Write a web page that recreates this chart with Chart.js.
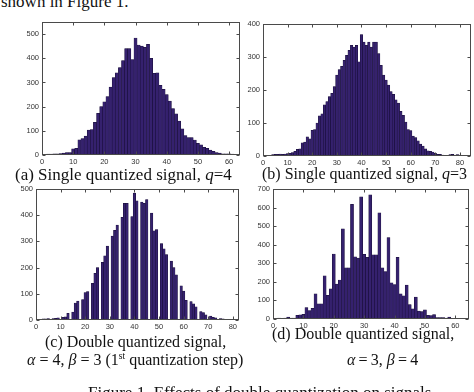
<!DOCTYPE html>
<html>
<head>
<meta charset="utf-8">
<script src="https://cdn.jsdelivr.net/npm/chart.js@4.4.0/dist/chart.umd.min.js"></script>
<style>
  body { margin: 0; background: #fff; }
  #page { position: relative; width: 474px; height: 392px; overflow: hidden; background: #fff; }
  canvas { position: absolute; }
  .cap { position: absolute; white-space: nowrap; font-family: "Liberation Serif", serif; color: #111; line-height: 1; z-index: 2; }
  sup { font-size: 60%; line-height: 0; }
</style>
</head>
<body>
<div id="page">
  <div class="cap" style="left:1px; top:-7px; font-size:17px;">shown in Figure 1.</div>

  <canvas id="ca" width="242" height="160" style="left:0px; top:14px;"></canvas>
  <canvas id="cb" width="233" height="160" style="left:240px; top:16px;"></canvas>
  <canvas id="cc" width="241" height="158" style="left:0px; top:181px;"></canvas>
  <canvas id="cd" width="226" height="157" style="left:245px; top:181px;"></canvas>

  <div class="cap" style="left:15px; top:166px; font-size:17px;">(a) Single quantized signal, <i>q</i>=4</div>
  <div class="cap" style="left:262px; top:166px; font-size:16px;">(b) Single quantized signal, <i>q</i>=3</div>
  <div class="cap" style="left:45px; top:334px; font-size:16px;">(c) Double quantized signal,</div>
  <div class="cap" style="left:27px; top:352px; font-size:16px;"><i>&alpha;</i> = 4, <i>&beta;</i> = 3 (1<sup>st</sup> quantization step)</div>
  <div class="cap" style="left:272px; top:326px; font-size:16px;">(d) Double quantized signal,</div>
  <div class="cap" style="left:347px; top:352px; font-size:16px;"><i>&alpha;</i>&thinsp;=&thinsp;3, <i>&beta;</i>&thinsp;=&thinsp;4</div>

  <div class="cap" style="left:88px; top:384px; font-size:17px;">Figure 1. Effects of double quantization on signals</div>
</div>
<script>
// (a) single quantized, q=4 -- counts for bins 0..62
var aValues = [3,3,4,4,5,5,6,8,10,10,
               25,28,63,68,78,103,105,135,172,200,
               220,242,281,320,340,361,390,440,440,395,
               484,455,450,445,458,400,338,340,288,272,
               250,223,192,170,140,108,80,72,72,62,
               48,42,32,28,20,15,10,8,5,5,
               5,4,3];
// (b) single quantized, q=3 -- bins 0..81
var bValues = [0,0,1,2,4,5,5,6,5,6,
               7,8,10,14,20,22,40,42,58,52,
               78,80,100,122,128,155,165,180,190,210,
               245,262,272,290,305,320,335,330,335,285,
               368,345,335,345,330,345,345,310,275,245,
               230,215,195,187,170,160,135,123,103,80,
               77,60,56,46,36,30,22,16,14,12,
               8,5,5,3,2,2,4,5,3,4,
               3,2];
// (c) double quantized, alpha=4, beta=3 -- bins 0..83
var cValues = [3,3,0,4,4,5,0,5,6,8,
               0,10,12,25,0,30,65,72,0,78,
               105,108,0,140,178,200,0,220,245,282,
               0,320,342,362,0,392,445,445,0,395,
               484,455,0,450,445,460,0,408,340,345,
               0,292,272,250,0,225,200,172,0,130,
               110,75,0,70,62,50,0,32,28,20,
               0,15,10,8,0,5,4,3,0,3,
               3,2,0,2];
// (d) double quantized, alpha=3, beta=4 -- bins 0..61
var dValues = [3,4,5,4,5,10,5,5,20,22,
               25,62,45,58,135,82,82,232,128,162,
               350,188,210,485,275,275,618,335,328,658,
               348,332,668,345,345,572,275,255,438,195,
               185,332,135,125,182,78,55,118,42,40,
               50,20,18,24,8,8,8,5,10,3,
               3,2];

var aXTicks = [0,10,20,30,40,50,60];
var bXTicks = [0,10,20,30,40,50,60,70,80];
var cXTicks = [0,10,20,30,40,50,60,70,80];
var dXTicks = [0,10,20,30,40,50,60];
var aYTicks = [0,100,200,300,400,500];
var bYTicks = [0,100,200,300,400];
var cYTicks = [0,100,200,300,400,500];
var dYTicks = [0,100,200,300,400,500,600,700];

// box round the plot and small inward ticks, like matlab axes
var frame = {
  id: 'frame',
  afterDraw: function(chart) {
    var ctx = chart.ctx, a = chart.chartArea;
    var x = chart.scales.x, y = chart.scales.y;
    var l = Math.round(a.left) + 0.5, r = Math.round(a.right) - 0.5;
    var t = Math.round(a.top) + 0.5, b = Math.round(a.bottom) - 0.5;
    ctx.save();
    ctx.strokeStyle = '#4a4a4a';
    ctx.lineWidth = 1;
    ctx.strokeRect(l, t, r - l, b - t);
    ctx.beginPath();
    x.ticks.forEach(function(tk) {
      var p = Math.round(x.getPixelForValue(tk.value)) + 0.5;
      ctx.moveTo(p, b); ctx.lineTo(p, b - 3);
      ctx.moveTo(p, t); ctx.lineTo(p, t + 3);
    });
    y.ticks.forEach(function(tk) {
      var p = Math.round(y.getPixelForValue(tk.value)) + 0.5;
      ctx.moveTo(l, p); ctx.lineTo(l + 3, p);
      ctx.moveTo(r, p); ctx.lineTo(r - 3, p);
    });
    ctx.stroke();
    ctx.restore();
  }
};

function makePanel(id, values, xMax, yMax, xTicks, yTicks, yW, xH) {
  var pts = values.map(function(v, i) { return {x: i, y: v}; });
  var tickFont = {family: 'Liberation Sans', size: 7.5};
  return new Chart(document.getElementById(id), {
    type: 'bar',
    data: {
      datasets: [{
        data: pts,
        backgroundColor: '#35216e',
        borderColor: '#160c33',
        borderWidth: 0.5,
        barPercentage: 1,
        categoryPercentage: 1
      }]
    },
    options: {
      responsive: false,
      animation: false,
      devicePixelRatio: 1,
      layout: {padding: {top: 8, right: 2, left: 0, bottom: 0}},
      plugins: {legend: {display: false}, tooltip: {enabled: false}},
      scales: {
        x: {
          type: 'linear',
          offset: false,
          min: 0,
          max: xMax,
          grid: {display: false, drawTicks: false},
          border: {display: false},
          ticks: {font: tickFont, color: '#333', padding: 2, maxRotation: 0, autoSkip: false},
          afterBuildTicks: function(s) { s.ticks = xTicks.map(function(v) { return {value: v}; }); },
          afterFit: function(s) { s.height = xH; }
        },
        y: {
          min: 0,
          max: yMax,
          grid: {display: false, drawTicks: false},
          border: {display: false},
          ticks: {font: tickFont, color: '#333', padding: 3},
          afterBuildTicks: function(s) { s.ticks = yTicks.map(function(v) { return {value: v}; }); },
          afterFit: function(s) { s.width = yW; }
        }
      }
    },
    plugins: [frame]
  });
}

makePanel('ca', aValues, 63.5, 550, aXTicks, aYTicks, 42, 19);
makePanel('cb', bValues, 84.5, 400, bXTicks, bYTicks, 23, 20);
makePanel('cc', cValues, 82.5, 500, cXTicks, cYTicks, 36, 19);
makePanel('cd', dValues, 64.5, 700, dXTicks, dYTicks, 28, 19);
</script>
</body>
</html>
